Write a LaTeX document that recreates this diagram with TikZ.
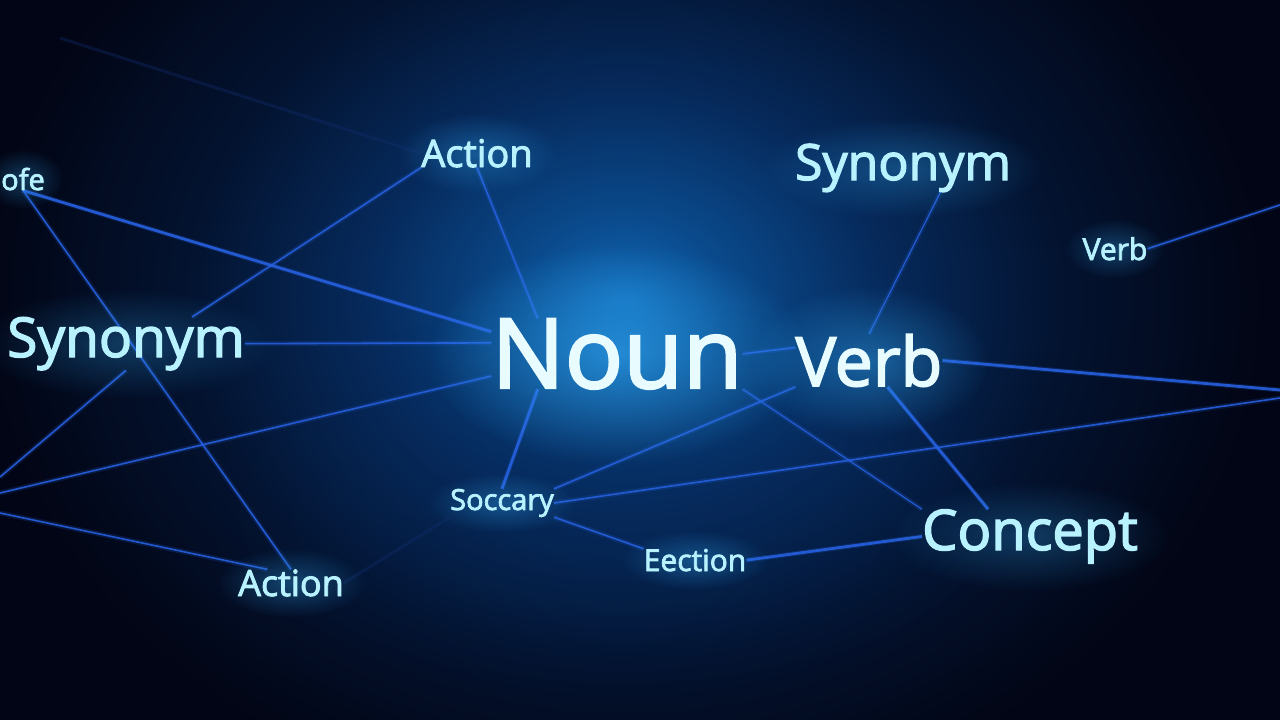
\documentclass[tikz,border=0pt]{standalone}
\usepackage{fontspec}
\setmainfont{Open Sans}[UprightFeatures={FakeBold=2.5}]
\usetikzlibrary{fadings}
\definecolor{bgc}{HTML}{020515}
\definecolor{glowA}{HTML}{1168B4}
\definecolor{glowB}{HTML}{0A4A8C}
\definecolor{glowC}{HTML}{062A5C}
\definecolor{glowD}{HTML}{031330}
\definecolor{linkc}{HTML}{2660E0}
\definecolor{wordc}{HTML}{B8F2FF}
\definecolor{nounc}{HTML}{E8FCFF}
\definecolor{haloc}{HTML}{33B2FF}
\pgfdeclareradialshading{bgglow}{\pgfpoint{0bp}{0bp}}{color(0bp)=(glowA); color(4bp)=(glowB); color(10bp)=(glowC); color(17bp)=(glowD); color(25bp)=(bgc); color(50bp)=(bgc)}
\tikzfading[name=halofade, inner color=transparent!40, outer color=transparent!100]
\pgfdeclarelayer{bg}
\pgfdeclarelayer{lines}
\pgfdeclarelayer{halo}
\pgfsetlayers{bg,lines,halo,main}
\newcommand\wsize[1]{\fontsize{#1}{#1}\selectfont}

\tikzset{
  word/.style={text=wordc, inner sep=0pt, anchor=base},
  link/.style={preaction={draw=linkc, line width=5pt, opacity=.18}, draw=linkc, line width=1.6pt, opacity=.9},
  thicklink/.style={link, line width=2.8pt},
  faintlink/.style={draw=linkc!45!bgc, line width=3pt, opacity=.35},
}

\begin{document}
\begin{tikzpicture}[x=1pt,y=-1pt]
\useasboundingbox (0,0) rectangle (1280,720);
\clip (0,0) rectangle (1280,720);

% background glow
\begin{pgfonlayer}{bg}
\fill[bgc] (0,0) rectangle (1280,720);
\shade[shading=bgglow] (625,300) ellipse [x radius=640, y radius=520];
\fill[glowC, path fading=halofade, opacity=.7] (620,500) ellipse [x radius=420, y radius=200];
\end{pgfonlayer}

% words
\node[word, font=\wsize{38}] (actT) at (477,167) {Action};
\node[word, font=\wsize{29}, anchor=base west] (ofe) at (1,190) {ofe};
\node[word, font=\wsize{50}] (synT) at (903,180) {Synonym};
\node[word, font=\wsize{30}] (verbR) at (1115,260) {Verb};
\node[word, font=\wsize{55}] (synL) at (126,357) {Synonym};
\node[word, font=\wsize{97}, text=nounc] (noun) at (617,388) {Noun};
\node[word, font=\wsize{68}, text=nounc] (verbC) at (869,386) {Verb};
\node[word, font=\wsize{29}] (socc) at (502,510) {Soccary};
\node[word, font=\wsize{30}] (eect) at (695,571) {Eection};
\node[word, font=\wsize{56}] (conc) at (1030,550) {Concept};
\node[word, font=\wsize{36}] (actB) at (291,596) {Action};

% free ends at the border
\coordinate (eTL) at (60,38);
\coordinate (eL1) at (0,493);
\coordinate (eL2) at (0,477);
\coordinate (eL3) at (0,513);
\coordinate (eR1) at (1280,398);
\coordinate (eR2) at (1280,390);
\coordinate (eR3) at (1280,205);

\begin{pgfonlayer}{halo}
\foreach \n/\rx/\ry/\o in {noun/190/110/1, verbC/120/75/.7, actT/80/40/.55, synT/140/50/.5,
  synL/150/55/.45, verbR/50/30/.5, socc/75/30/.55, eect/75/30/.55, conc/140/55/.45, actB/75/35/.55, ofe/40/30/.5}
  \fill[haloc, path fading=halofade, opacity=\o] (\n.center) ellipse [x radius=\rx, y radius=\ry];
\end{pgfonlayer}

\begin{pgfonlayer}{lines}
\draw[faintlink] (eTL) -- (actT.west);
\draw[thicklink] (ofe.south) -- (noun.170);
\draw[link] (ofe.south) -- (actB.north);
\draw[link] (synL.east) -- (noun.175);
\draw[link] (actT.south west) -- (synL.22);
\draw[link] (actT.south) -- (noun.156);
\draw[thicklink] (noun.204) -- (socc.north);
\draw[link] (noun.190) -- (eL1);
\draw[link] (synL.south) -- (eL2);
\draw[link] (eL3) -- (actB.150);
\draw[faintlink] (actB.east) -- (socc.south west);
\draw[link] (socc.south east) -- (eect.north west);
\draw[link] (socc.north east) -- (verbC.south west);
\draw[link] (socc.east) -- (eR1);
\draw[link] (noun.east) -- (verbC.170);
\draw[thicklink] (verbC.east) -- (eR2);
\draw[thicklink] (verbC.-55) -- (conc.147);
\draw[link, line width=1.2pt] (noun.south east) -- (conc.north west);
\draw[link, line width=1.2pt] (synT.-33) -- (verbC.north);
\draw[link] (verbR.east) -- (eR3);
\draw[thicklink] (eect.east) -- (conc.west);
\end{pgfonlayer}
\end{tikzpicture}
\end{document}
